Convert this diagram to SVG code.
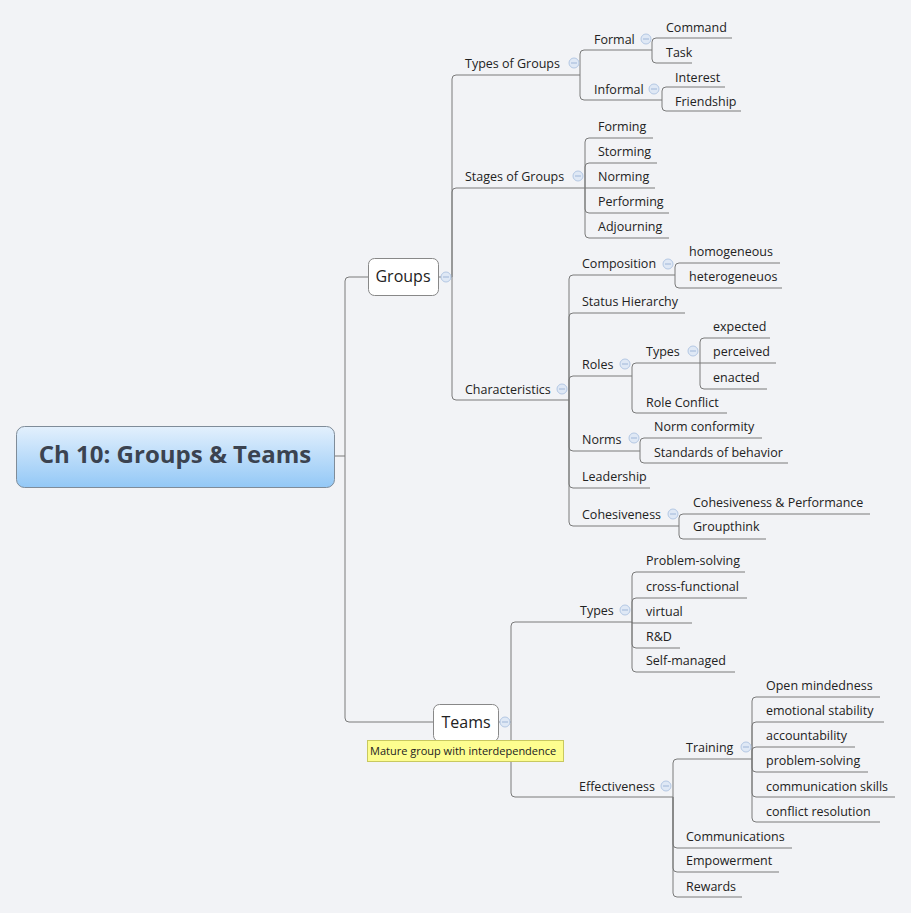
<svg xmlns="http://www.w3.org/2000/svg" width="911" height="913" viewBox="0 0 911 913">
<defs>
<linearGradient id="rg" x1="0" y1="0" x2="0" y2="1"><stop offset="0" stop-color="#e3f0fd"/><stop offset="1" stop-color="#93c8f6"/></linearGradient>
</defs>
<style>
text{font-family:"Open Sans","DejaVu Sans",sans-serif;font-size:12.5px;fill:#222}
.c path{fill:none;stroke:#7a7a7a;stroke-width:1}
.m circle{fill:#dfe8f5;stroke:#b4c8e4;stroke-width:1}
.m path{stroke:#9fb6d8;stroke-width:1}
</style>
<rect width="911" height="913" fill="#f2f3f6"/>
<g class="c">
<path d="M334 456H345M345 456V281Q345 277 349 277H368M345 456V718Q345 722 349 722H433"/>
<path d="M439 277H452M452 277V79Q452 75 456 75H580M452 277V192Q452 188 456 188H585M452 277V396Q452 400 456 400H569"/>
<path d="M580 75V54Q580 50 584 50H652M580 75V96Q580 100 584 100H662"/>
<path d="M652 50V42Q652 38 656 38H732M652 50V59Q652 63 656 63H692"/>
<path d="M662 100V91Q662 87 666 87H725M662 100V107Q662 111 666 111H741"/>
<path d="M585 188V142Q585 138 589 138H653M585 188V167Q585 163 589 163H657M585 188H655M585 188V209Q585 213 589 213H669M585 188V234Q585 238 589 238H669"/>
<path d="M569 400V279Q569 275 573 275H675M569 400V317Q569 313 573 313H685M569 400V380Q569 376 573 376H632M569 400V447Q569 451 573 451H640M569 400V484Q569 488 573 488H650M569 400V522Q569 526 573 526H679"/>
<path d="M675 275V267Q675 263 679 263H780M675 275V284Q675 288 679 288H782"/>
<path d="M632 376V367Q632 363 636 363H700M632 376V409Q632 413 636 413H727"/>
<path d="M700 363V342Q700 338 704 338H770M700 363H776M700 363V385Q700 389 704 389H767"/>
<path d="M640 451V442Q640 438 644 438H762M640 451V459Q640 463 644 463H788"/>
<path d="M679 526V518Q679 514 683 514H870M679 526V535Q679 539 683 539H766"/>
<path d="M498 722H511M511 722V626Q511 622 515 622H632M511 722V793Q511 797 515 797H673"/>
<path d="M632 622V576Q632 572 636 572H745M632 622V602Q632 598 636 598H747M632 622V623H692M632 622V644Q632 648 636 648H680M632 622V668Q632 672 636 672H735"/>
<path d="M673 797V763Q673 759 677 759H752M673 797V844Q673 848 677 848H792M673 797V868Q673 872 677 872H779M673 797V893Q673 897 677 897H742"/>
<path d="M752 759V701Q752 697 756 697H880M752 759V726Q752 722 756 722H884M752 759V751Q752 747 756 747H855M752 759V768Q752 772 756 772H868M752 759V793Q752 797 756 797H895M752 759V818Q752 822 756 822H880"/>
</g>
<g class="m">
<g><circle cx="446" cy="277" r="5"/><path d="M443 277H449"/></g>
<g><circle cx="574" cy="63" r="5"/><path d="M571 63H577"/></g>
<g><circle cx="646" cy="39" r="5"/><path d="M643 39H649"/></g>
<g><circle cx="654" cy="89" r="5"/><path d="M651 89H657"/></g>
<g><circle cx="578" cy="176" r="5"/><path d="M575 176H581"/></g>
<g><circle cx="562" cy="389" r="5"/><path d="M559 389H565"/></g>
<g><circle cx="668" cy="264" r="5"/><path d="M665 264H671"/></g>
<g><circle cx="625" cy="364" r="5"/><path d="M622 364H628"/></g>
<g><circle cx="693" cy="351" r="5"/><path d="M690 351H696"/></g>
<g><circle cx="634" cy="438" r="5"/><path d="M631 438H637"/></g>
<g><circle cx="673" cy="514" r="5"/><path d="M670 514H676"/></g>
<g><circle cx="505" cy="722" r="5"/><path d="M502 722H508"/></g>
<g><circle cx="625" cy="610" r="5"/><path d="M622 610H628"/></g>
<g><circle cx="666" cy="786" r="5"/><path d="M663 786H669"/></g>
<g><circle cx="746" cy="747" r="5"/><path d="M743 747H749"/></g>
</g>
<g id="root"><rect x="16.5" y="426.5" width="318" height="61" rx="8" fill="url(#rg)" stroke="#7f8c99"/><text x="175" y="463" text-anchor="middle" style="font-size:24px;font-weight:bold;fill:#3b4350">Ch 10: Groups &amp; Teams</text></g>
<g id="groups"><rect x="368.5" y="258.5" width="70" height="37" rx="6" fill="#fff" stroke="#888"/><text x="403" y="282" text-anchor="middle" style="font-size:16px">Groups</text></g>
<g id="teams"><rect x="433.5" y="704.5" width="65" height="37" rx="6" fill="#fff" stroke="#888"/><text x="466" y="728" text-anchor="middle" style="font-size:16px">Teams</text></g>
<g id="note"><rect x="367.5" y="740.5" width="196" height="21" fill="#fdfd8f" stroke="#c8c860"/><text x="370" y="755" style="font-size:11px">Mature group with interdependence</text></g>
<g id="labels">
<text x="465" y="68">Types of Groups</text>
<text x="594" y="44">Formal</text>
<text x="666" y="32">Command</text>
<text x="666" y="57">Task</text>
<text x="594" y="94">Informal</text>
<text x="675" y="82">Interest</text>
<text x="675" y="106">Friendship</text>
<text x="465" y="181">Stages of Groups</text>
<text x="598" y="131">Forming</text>
<text x="598" y="156">Storming</text>
<text x="598" y="181">Norming</text>
<text x="598" y="206">Performing</text>
<text x="598" y="231">Adjourning</text>
<text x="465" y="394">Characteristics</text>
<text x="582" y="268">Composition</text>
<text x="689" y="256">homogeneous</text>
<text x="689" y="281">heterogeneuos</text>
<text x="582" y="306">Status Hierarchy</text>
<text x="582" y="369">Roles</text>
<text x="646" y="356">Types</text>
<text x="713" y="331">expected</text>
<text x="713" y="356">perceived</text>
<text x="713" y="382">enacted</text>
<text x="646" y="407">Role Conflict</text>
<text x="582" y="444">Norms</text>
<text x="654" y="431">Norm conformity</text>
<text x="654" y="457">Standards of behavior</text>
<text x="582" y="481">Leadership</text>
<text x="582" y="519">Cohesiveness</text>
<text x="693" y="507">Cohesiveness &amp; Performance</text>
<text x="693" y="531">Groupthink</text>
<text x="580" y="615">Types</text>
<text x="646" y="565">Problem-solving</text>
<text x="646" y="591">cross-functional</text>
<text x="646" y="616">virtual</text>
<text x="646" y="641">R&amp;D</text>
<text x="646" y="665">Self-managed</text>
<text x="579" y="791">Effectiveness</text>
<text x="686" y="752">Training</text>
<text x="766" y="690">Open mindedness</text>
<text x="766" y="715">emotional stability</text>
<text x="766" y="740">accountability</text>
<text x="766" y="765">problem-solving</text>
<text x="766" y="791">communication skills</text>
<text x="766" y="816">conflict resolution</text>
<text x="686" y="841">Communications</text>
<text x="686" y="865">Empowerment</text>
<text x="686" y="891">Rewards</text>
</g>
</svg>
